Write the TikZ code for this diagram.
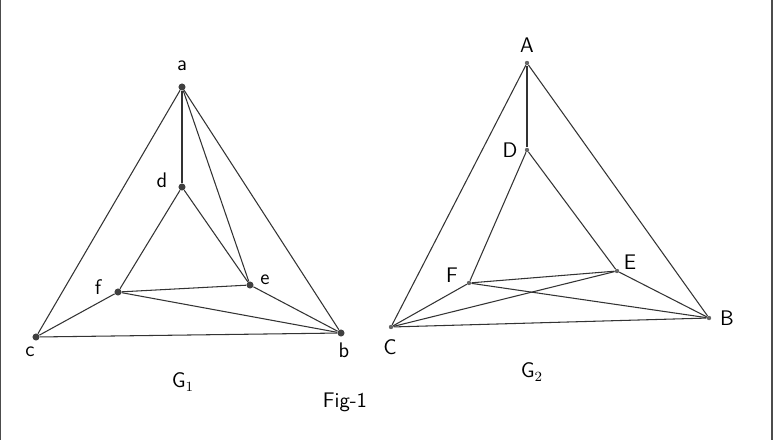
\documentclass[tikz,border=0pt]{standalone}
\begin{document}
\begin{tikzpicture}[x=0.02cm,y=-0.02cm,
  v/.style={circle,fill=black!75,inner sep=0pt,minimum size=4pt},
  w/.style={circle,fill=black!60,inner sep=0pt,minimum size=2.5pt},
  lab/.style={font=\sffamily\large},
  edge/.style={draw=black!80,line width=0.6pt}]
\useasboundingbox[fill=white] (0,0) rectangle (774,440);
\draw[black!70,line width=1pt] (0,0) -- (0,440);
\draw[black!70,line width=1pt] (772,0) -- (772,440);
% G1
\node[v] (a) at (182,87) {};
\node[v] (d) at (182,187) {};
\node[v] (e) at (250,285) {};
\node[v] (f) at (118,292) {};
\node[v] (c) at (36,337) {};
\node[v] (b) at (341,333) {};
\foreach \p/\q in {a/c,a/b,a/d,a/e,d/e,d/f,f/c,f/e,f/b,e/b,c/b}
  \draw[edge] (\p) -- (\q);
\node[lab] (la) at (182,66) {a};
\node[lab] (ld) at (162,180) {d};
\node[lab] (le) at (265,280) {e};
\node[lab] (lf) at (98,287) {f};
\node[lab] (lc) at (30,352) {c};
\node[lab] (lb) at (344,350) {b};
\node[lab] (g1) at (183,382) {G$_1$};
\node[lab] (fig) at (345,402) {Fig-1};
% G2
\node[w] (A) at (527,63) {};
\node[w] (D) at (527,150) {};
\node[w] (E) at (617,271) {};
\node[w] (F) at (469,283) {};
\node[w] (C) at (391,327) {};
\node[w] (B) at (709,318) {};
\foreach \p/\q in {A/C,A/B,A/D,D/F,D/E,F/E,F/B,C/E,C/B,E/B,C/F}
  \draw[edge] (\p) -- (\q);
\node[lab] (lA) at (527,45) {A};
\node[lab] (lD) at (510,150) {D};
\node[lab] (lE) at (630,262) {E};
\node[lab] (lF) at (452,275) {F};
\node[lab] (lC) at (390,347) {C};
\node[lab] (lB) at (727,318) {B};
\node[lab] (g2) at (532,372) {G$_2$};
\end{tikzpicture}
\end{document}
